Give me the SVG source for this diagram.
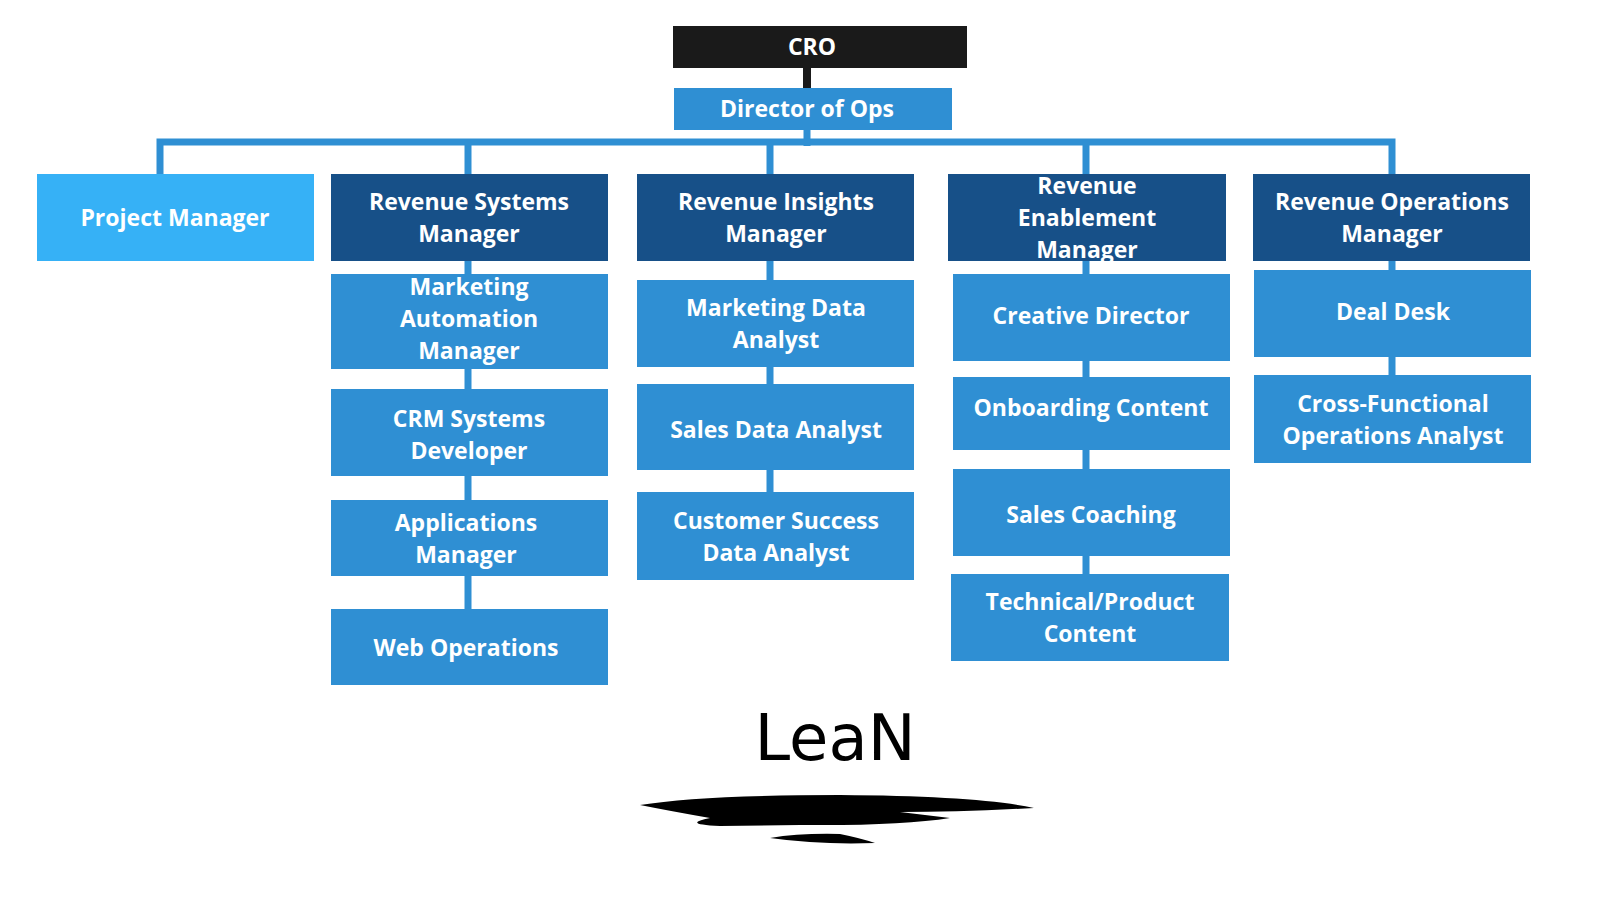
<svg xmlns="http://www.w3.org/2000/svg" width="1600" height="899" viewBox="0 0 1600 899">
<style>
text{font-family:"Open Sans","Noto Sans",sans-serif;font-weight:bold;font-size:23px;fill:#ffffff;text-anchor:middle}
.d{fill:#175088}.m{fill:#2f8fd3}.l{fill:#36b1f6}.k{fill:#1a1a1a}
.c{stroke:#2f8fd3;stroke-width:7;fill:none}
</style>
<rect width="1600" height="899" fill="#fff"/>
<g id="connectors">
<line x1="807" y1="68" x2="807" y2="88" stroke="#1a1a1a" stroke-width="8"/>
<line class="c" x1="807" y1="130" x2="807" y2="146"/>
<polyline class="c" points="160,174 160,142 1392,142 1392,174"/>
<line class="c" x1="468" y1="142" x2="468" y2="174"/>
<line class="c" x1="770" y1="142" x2="770" y2="174"/>
<line class="c" x1="1086" y1="142" x2="1086" y2="174"/>
<line class="c" x1="468" y1="261" x2="468" y2="609"/>
<line class="c" x1="770" y1="261" x2="770" y2="492"/>
<line class="c" x1="1086" y1="261" x2="1086" y2="574"/>
<line class="c" x1="1392" y1="261" x2="1392" y2="375"/>
</g>
<g id="cro"><rect class="k" x="673" y="26" width="294" height="42"/><text x="812" y="55">CRO</text></g>
<g id="dir"><rect class="m" x="674" y="88" width="278" height="42"/><text x="807" y="117">Director of Ops</text></g>
<g id="pm"><rect class="l" x="37" y="174" width="277" height="87"/><text x="175" y="226">Project Manager</text></g>
<g id="rs"><rect class="d" x="331" y="174" width="277" height="87"/><text x="469" y="210">Revenue Systems</text><text x="469" y="242">Manager</text></g>
<g id="ri"><rect class="d" x="637" y="174" width="277" height="87"/><text x="776" y="210">Revenue Insights</text><text x="776" y="242">Manager</text></g>
<g id="re"><rect class="d" x="948" y="174" width="278" height="87"/><text x="1087" y="194">Revenue</text><text x="1087" y="226">Enablement</text><text x="1087" y="258">Manager</text></g>
<g id="ro"><rect class="d" x="1253" y="174" width="277" height="87"/><text x="1392" y="210">Revenue Operations</text><text x="1392" y="242">Manager</text></g>
<g id="mam"><rect class="m" x="331" y="274" width="277" height="95"/><text x="469" y="295">Marketing</text><text x="469" y="327">Automation</text><text x="469" y="359">Manager</text></g>
<g id="crm"><rect class="m" x="331" y="389" width="277" height="87"/><text x="469" y="427">CRM Systems</text><text x="469" y="459">Developer</text></g>
<g id="app"><rect class="m" x="331" y="500" width="277" height="76"/><text x="466" y="531">Applications</text><text x="466" y="563">Manager</text></g>
<g id="web"><rect class="m" x="331" y="609" width="277" height="76"/><text x="466" y="656">Web Operations</text></g>
<g id="mda"><rect class="m" x="637" y="280" width="277" height="87"/><text x="776" y="316">Marketing Data</text><text x="776" y="348">Analyst</text></g>
<g id="sda"><rect class="m" x="637" y="384" width="277" height="86"/><text x="776" y="438">Sales Data Analyst</text></g>
<g id="csda"><rect class="m" x="637" y="492" width="277" height="88"/><text x="776" y="529">Customer Success</text><text x="776" y="561">Data Analyst</text></g>
<g id="cd"><rect class="m" x="953" y="274" width="277" height="87"/><text x="1091" y="324">Creative Director</text></g>
<g id="oc"><rect class="m" x="953" y="377" width="277" height="73"/><text x="1091" y="416">Onboarding Content</text></g>
<g id="sc"><rect class="m" x="953" y="469" width="277" height="87"/><text x="1091" y="523">Sales Coaching</text></g>
<g id="tpc"><rect class="m" x="951" y="574" width="278" height="87"/><text x="1090" y="610">Technical/Product</text><text x="1090" y="642">Content</text></g>
<g id="dd"><rect class="m" x="1254" y="270" width="277" height="87"/><text x="1393" y="320">Deal Desk</text></g>
<g id="cfoa"><rect class="m" x="1254" y="375" width="277" height="88"/><text x="1393" y="412">Cross-Functional</text><text x="1393" y="444">Operations Analyst</text></g>
<text x="835" y="760" style="font-family:'DejaVu Sans',sans-serif;font-weight:normal;font-size:64px;fill:#000">LeaN</text>
<path d="M640,805 Q700,795 840,795 Q980,796 1034,808 Q960,812 900,812 L950,818 Q900,826 800,825 L720,826 Q680,824 710,818 Q670,811 640,805Z" fill="#000"/>
<path d="M770,838 Q800,833 840,834 Q860,838 875,843 Q820,845 770,838Z" fill="#000"/>
</svg>
